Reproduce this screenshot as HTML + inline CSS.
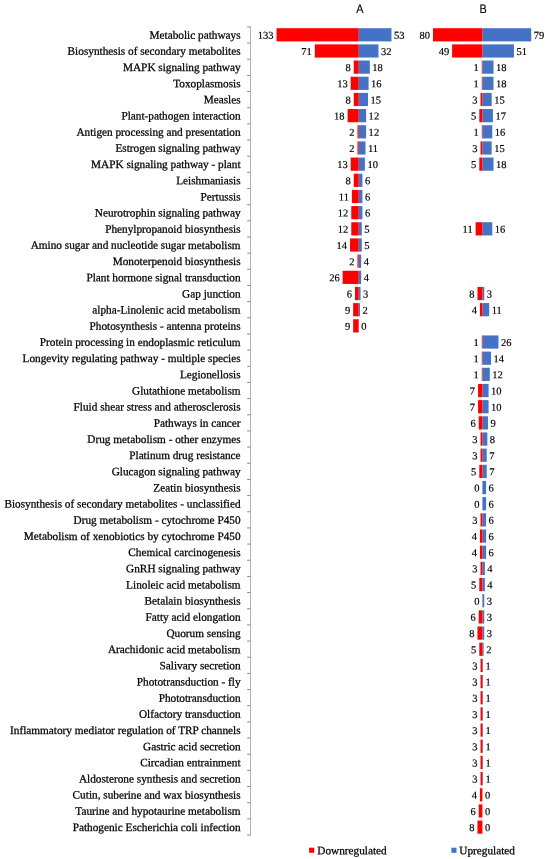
<!DOCTYPE html>
<html lang="en"><head><meta charset="utf-8"><title>KEGG pathway enrichment</title>
<style>
html,body{margin:0;padding:0;background:#fff}
body{width:550px;height:859px;overflow:hidden}
svg{display:block;filter:blur(.3px)}
text{text-rendering:geometricPrecision;font-family:"Liberation Serif","Times New Roman",serif;font-size:11.3px;fill:#000;stroke:#000;stroke-width:.25px}
.n{font-size:10.55px;stroke-width:.18px}
.n.l{text-anchor:end}
.l{text-anchor:end}
.h{font-family:"Liberation Sans",Arial,sans-serif;font-size:12.2px;text-anchor:middle;stroke-width:.1px}
.ax{stroke:#b3b3b3;stroke-width:1;fill:none}
.tk{stroke:#8a8a8a;stroke-width:1;fill:none}
</style></head><body>
<svg width="550" height="859" viewBox="0 0 550 859">
<rect width="550" height="859" fill="#fff"/>
<text class="h" transform="translate(359.75 12.65) scale(.89 1)">A</text>
<text class="h" transform="translate(483.1 12.65) scale(.89 1)">B</text>

<path class="ax" d="M250.5 26.4V835.5"/>
<path class="tk" d="M247.2 26.90H250.5M247.2 43.06H250.5M247.2 59.22H250.5M247.2 75.39H250.5M247.2 91.55H250.5M247.2 107.71H250.5M247.2 123.87H250.5M247.2 140.03H250.5M247.2 156.20H250.5M247.2 172.36H250.5M247.2 188.52H250.5M247.2 204.68H250.5M247.2 220.84H250.5M247.2 237.01H250.5M247.2 253.17H250.5M247.2 269.33H250.5M247.2 285.49H250.5M247.2 301.65H250.5M247.2 317.82H250.5M247.2 333.98H250.5M247.2 350.14H250.5M247.2 366.30H250.5M247.2 382.46H250.5M247.2 398.63H250.5M247.2 414.79H250.5M247.2 430.95H250.5M247.2 447.11H250.5M247.2 463.27H250.5M247.2 479.44H250.5M247.2 495.60H250.5M247.2 511.76H250.5M247.2 527.92H250.5M247.2 544.08H250.5M247.2 560.25H250.5M247.2 576.41H250.5M247.2 592.57H250.5M247.2 608.73H250.5M247.2 624.89H250.5M247.2 641.06H250.5M247.2 657.22H250.5M247.2 673.38H250.5M247.2 689.54H250.5M247.2 705.70H250.5M247.2 721.87H250.5M247.2 738.03H250.5M247.2 754.19H250.5M247.2 770.35H250.5M247.2 786.51H250.5M247.2 802.68H250.5M247.2 818.84H250.5M247.2 835.00H250.5"/>
<text class="l" transform="matrix(0.997 .0005 0 1 240.60 38.70)">Metabolic pathways</text>
<rect x="358.70" y="28.20" width="32.75" height="13.2" fill="#4472c4"/>
<rect x="276.51" y="28.20" width="82.19" height="13.2" fill="#ff0000"/>
<text class="n l" transform="matrix(0.997 .0005 0 1 273.56 38.75)">133</text>
<text class="n" transform="matrix(0.997 .0005 0 1 393.95 38.75)">53</text>
<rect x="482.40" y="28.20" width="48.82" height="13.2" fill="#4472c4"/>
<rect x="432.96" y="28.20" width="49.44" height="13.2" fill="#ff0000"/>
<text class="n l" transform="matrix(0.997 .0005 0 1 430.01 38.75)">80</text>
<text class="n" transform="matrix(0.997 .0005 0 1 533.72 38.75)">79</text>
<text class="l" transform="matrix(0.997 .0005 0 1 240.60 54.87)">Biosynthesis of secondary metabolites</text>
<rect x="358.70" y="44.37" width="19.78" height="13.2" fill="#4472c4"/>
<rect x="314.82" y="44.37" width="43.88" height="13.2" fill="#ff0000"/>
<text class="n l" transform="matrix(0.997 .0005 0 1 311.87 54.92)">71</text>
<text class="n" transform="matrix(0.997 .0005 0 1 380.98 54.92)">32</text>
<rect x="482.40" y="44.37" width="31.52" height="13.2" fill="#4472c4"/>
<rect x="452.12" y="44.37" width="30.28" height="13.2" fill="#ff0000"/>
<text class="n l" transform="matrix(0.997 .0005 0 1 449.17 54.92)">49</text>
<text class="n" transform="matrix(0.997 .0005 0 1 516.42 54.92)">51</text>
<text class="l" transform="matrix(0.997 .0005 0 1 240.60 71.04)">MAPK signaling pathway</text>
<rect x="358.70" y="60.54" width="11.12" height="13.2" fill="#4472c4"/>
<rect x="353.76" y="60.54" width="4.94" height="13.2" fill="#ff0000"/>
<text class="n l" transform="matrix(0.997 .0005 0 1 350.81 71.09)">8</text>
<text class="n" transform="matrix(0.997 .0005 0 1 372.32 71.09)">18</text>
<rect x="482.40" y="60.54" width="11.12" height="13.2" fill="#4472c4"/>
<rect x="481.78" y="60.54" width="0.62" height="13.2" fill="#ff0000"/>
<text class="n l" transform="matrix(0.997 .0005 0 1 478.83 71.09)">1</text>
<text class="n" transform="matrix(0.997 .0005 0 1 496.02 71.09)">18</text>
<text class="l" transform="matrix(0.997 .0005 0 1 240.60 87.21)">Toxoplasmosis</text>
<rect x="358.70" y="76.71" width="9.89" height="13.2" fill="#4472c4"/>
<rect x="350.67" y="76.71" width="8.03" height="13.2" fill="#ff0000"/>
<text class="n l" transform="matrix(0.997 .0005 0 1 347.72 87.26)">13</text>
<text class="n" transform="matrix(0.997 .0005 0 1 371.09 87.26)">16</text>
<rect x="482.40" y="76.71" width="11.12" height="13.2" fill="#4472c4"/>
<rect x="481.78" y="76.71" width="0.62" height="13.2" fill="#ff0000"/>
<text class="n l" transform="matrix(0.997 .0005 0 1 478.83 87.26)">1</text>
<text class="n" transform="matrix(0.997 .0005 0 1 496.02 87.26)">18</text>
<text class="l" transform="matrix(0.997 .0005 0 1 240.60 103.38)">Measles</text>
<rect x="358.70" y="92.88" width="9.27" height="13.2" fill="#4472c4"/>
<rect x="353.76" y="92.88" width="4.94" height="13.2" fill="#ff0000"/>
<text class="n l" transform="matrix(0.997 .0005 0 1 350.81 103.43)">8</text>
<text class="n" transform="matrix(0.997 .0005 0 1 370.47 103.43)">15</text>
<rect x="482.40" y="92.88" width="9.27" height="13.2" fill="#4472c4"/>
<rect x="480.55" y="92.88" width="1.85" height="13.2" fill="#ff0000"/>
<text class="n l" transform="matrix(0.997 .0005 0 1 477.60 103.43)">3</text>
<text class="n" transform="matrix(0.997 .0005 0 1 494.17 103.43)">15</text>
<text class="l" transform="matrix(0.997 .0005 0 1 240.60 119.55)">Plant-pathogen interaction</text>
<rect x="358.70" y="109.05" width="7.42" height="13.2" fill="#4472c4"/>
<rect x="347.58" y="109.05" width="11.12" height="13.2" fill="#ff0000"/>
<text class="n l" transform="matrix(0.997 .0005 0 1 344.63 119.60)">18</text>
<text class="n" transform="matrix(0.997 .0005 0 1 368.62 119.60)">12</text>
<rect x="482.40" y="109.05" width="10.51" height="13.2" fill="#4472c4"/>
<rect x="479.31" y="109.05" width="3.09" height="13.2" fill="#ff0000"/>
<text class="n l" transform="matrix(0.997 .0005 0 1 476.36 119.60)">5</text>
<text class="n" transform="matrix(0.997 .0005 0 1 495.41 119.60)">17</text>
<text class="l" transform="matrix(0.997 .0005 0 1 240.60 135.72)">Antigen processing and presentation</text>
<rect x="358.70" y="125.22" width="7.42" height="13.2" fill="#4472c4"/>
<rect x="357.46" y="125.22" width="1.24" height="13.2" fill="#ff0000"/>
<text class="n l" transform="matrix(0.997 .0005 0 1 354.51 135.77)">2</text>
<text class="n" transform="matrix(0.997 .0005 0 1 368.62 135.77)">12</text>
<rect x="482.40" y="125.22" width="9.89" height="13.2" fill="#4472c4"/>
<rect x="481.78" y="125.22" width="0.62" height="13.2" fill="#ff0000"/>
<text class="n l" transform="matrix(0.997 .0005 0 1 478.83 135.77)">1</text>
<text class="n" transform="matrix(0.997 .0005 0 1 494.79 135.77)">16</text>
<text class="l" transform="matrix(0.997 .0005 0 1 240.60 151.89)">Estrogen signaling pathway</text>
<rect x="358.70" y="141.39" width="6.80" height="13.2" fill="#4472c4"/>
<rect x="357.46" y="141.39" width="1.24" height="13.2" fill="#ff0000"/>
<text class="n l" transform="matrix(0.997 .0005 0 1 354.51 151.94)">2</text>
<text class="n" transform="matrix(0.997 .0005 0 1 368.00 151.94)">11</text>
<rect x="482.40" y="141.39" width="9.27" height="13.2" fill="#4472c4"/>
<rect x="480.55" y="141.39" width="1.85" height="13.2" fill="#ff0000"/>
<text class="n l" transform="matrix(0.997 .0005 0 1 477.60 151.94)">3</text>
<text class="n" transform="matrix(0.997 .0005 0 1 494.17 151.94)">15</text>
<text class="l" transform="matrix(0.997 .0005 0 1 240.60 168.06)">MAPK signaling pathway - plant</text>
<rect x="358.70" y="157.56" width="6.18" height="13.2" fill="#4472c4"/>
<rect x="350.67" y="157.56" width="8.03" height="13.2" fill="#ff0000"/>
<text class="n l" transform="matrix(0.997 .0005 0 1 347.72 168.11)">13</text>
<text class="n" transform="matrix(0.997 .0005 0 1 367.38 168.11)">10</text>
<rect x="482.40" y="157.56" width="11.12" height="13.2" fill="#4472c4"/>
<rect x="479.31" y="157.56" width="3.09" height="13.2" fill="#ff0000"/>
<text class="n l" transform="matrix(0.997 .0005 0 1 476.36 168.11)">5</text>
<text class="n" transform="matrix(0.997 .0005 0 1 496.02 168.11)">18</text>
<text class="l" transform="matrix(0.997 .0005 0 1 240.60 184.23)">Leishmaniasis</text>
<rect x="358.70" y="173.73" width="3.71" height="13.2" fill="#4472c4"/>
<rect x="353.76" y="173.73" width="4.94" height="13.2" fill="#ff0000"/>
<text class="n l" transform="matrix(0.997 .0005 0 1 350.81 184.28)">8</text>
<text class="n" transform="matrix(0.997 .0005 0 1 364.91 184.28)">6</text>
<text class="l" transform="matrix(0.997 .0005 0 1 240.60 200.40)">Pertussis</text>
<rect x="358.70" y="189.90" width="3.71" height="13.2" fill="#4472c4"/>
<rect x="351.90" y="189.90" width="6.80" height="13.2" fill="#ff0000"/>
<text class="n l" transform="matrix(0.997 .0005 0 1 348.95 200.45)">11</text>
<text class="n" transform="matrix(0.997 .0005 0 1 364.91 200.45)">6</text>
<text class="l" transform="matrix(0.997 .0005 0 1 240.60 216.57)">Neurotrophin signaling pathway</text>
<rect x="358.70" y="206.07" width="3.71" height="13.2" fill="#4472c4"/>
<rect x="351.28" y="206.07" width="7.42" height="13.2" fill="#ff0000"/>
<text class="n l" transform="matrix(0.997 .0005 0 1 348.33 216.62)">12</text>
<text class="n" transform="matrix(0.997 .0005 0 1 364.91 216.62)">6</text>
<text class="l" transform="matrix(0.997 .0005 0 1 240.60 232.74)">Phenylpropanoid biosynthesis</text>
<rect x="358.70" y="222.24" width="3.09" height="13.2" fill="#4472c4"/>
<rect x="351.28" y="222.24" width="7.42" height="13.2" fill="#ff0000"/>
<text class="n l" transform="matrix(0.997 .0005 0 1 348.33 232.79)">12</text>
<text class="n" transform="matrix(0.997 .0005 0 1 364.29 232.79)">5</text>
<rect x="482.40" y="222.24" width="9.89" height="13.2" fill="#4472c4"/>
<rect x="475.60" y="222.24" width="6.80" height="13.2" fill="#ff0000"/>
<text class="n l" transform="matrix(0.997 .0005 0 1 472.65 232.79)">11</text>
<text class="n" transform="matrix(0.997 .0005 0 1 494.79 232.79)">16</text>
<text class="l" transform="matrix(0.997 .0005 0 1 240.60 248.91)">Amino sugar and nucleotide sugar metabolism</text>
<rect x="358.70" y="238.41" width="3.09" height="13.2" fill="#4472c4"/>
<rect x="350.05" y="238.41" width="8.65" height="13.2" fill="#ff0000"/>
<text class="n l" transform="matrix(0.997 .0005 0 1 347.10 248.96)">14</text>
<text class="n" transform="matrix(0.997 .0005 0 1 364.29 248.96)">5</text>
<text class="l" transform="matrix(0.997 .0005 0 1 240.60 265.08)">Monoterpenoid biosynthesis</text>
<rect x="358.70" y="254.58" width="2.47" height="13.2" fill="#4472c4"/>
<rect x="357.46" y="254.58" width="1.24" height="13.2" fill="#ff0000"/>
<text class="n l" transform="matrix(0.997 .0005 0 1 354.51 265.13)">2</text>
<text class="n" transform="matrix(0.997 .0005 0 1 363.67 265.13)">4</text>
<text class="l" transform="matrix(0.997 .0005 0 1 240.60 281.25)">Plant hormone signal transduction</text>
<rect x="358.70" y="270.75" width="2.47" height="13.2" fill="#4472c4"/>
<rect x="342.63" y="270.75" width="16.07" height="13.2" fill="#ff0000"/>
<text class="n l" transform="matrix(0.997 .0005 0 1 339.68 281.30)">26</text>
<text class="n" transform="matrix(0.997 .0005 0 1 363.67 281.30)">4</text>
<text class="l" transform="matrix(0.997 .0005 0 1 240.60 297.42)">Gap junction</text>
<rect x="358.70" y="286.92" width="1.85" height="13.2" fill="#4472c4"/>
<rect x="354.99" y="286.92" width="3.71" height="13.2" fill="#ff0000"/>
<text class="n l" transform="matrix(0.997 .0005 0 1 352.04 297.47)">6</text>
<text class="n" transform="matrix(0.997 .0005 0 1 363.05 297.47)">3</text>
<rect x="482.40" y="286.92" width="1.85" height="13.2" fill="#4472c4"/>
<rect x="477.46" y="286.92" width="4.94" height="13.2" fill="#ff0000"/>
<text class="n l" transform="matrix(0.997 .0005 0 1 474.51 297.47)">8</text>
<text class="n" transform="matrix(0.997 .0005 0 1 486.75 297.47)">3</text>
<text class="l" transform="matrix(0.997 .0005 0 1 240.60 313.59)">alpha-Linolenic acid metabolism</text>
<rect x="358.70" y="303.09" width="1.24" height="13.2" fill="#4472c4"/>
<rect x="353.14" y="303.09" width="5.56" height="13.2" fill="#ff0000"/>
<text class="n l" transform="matrix(0.997 .0005 0 1 350.19 313.64)">9</text>
<text class="n" transform="matrix(0.997 .0005 0 1 362.44 313.64)">2</text>
<rect x="482.40" y="303.09" width="6.80" height="13.2" fill="#4472c4"/>
<rect x="479.93" y="303.09" width="2.47" height="13.2" fill="#ff0000"/>
<text class="n l" transform="matrix(0.997 .0005 0 1 476.98 313.64)">4</text>
<text class="n" transform="matrix(0.997 .0005 0 1 491.70 313.64)">11</text>
<text class="l" transform="matrix(0.997 .0005 0 1 240.60 329.76)">Photosynthesis - antenna proteins</text>
<rect x="353.14" y="319.26" width="5.56" height="13.2" fill="#ff0000"/>
<text class="n l" transform="matrix(0.997 .0005 0 1 350.19 329.81)">9</text>
<text class="n" transform="matrix(0.997 .0005 0 1 361.20 329.81)">0</text>
<text class="l" transform="matrix(0.997 .0005 0 1 240.60 345.93)">Protein processing in endoplasmic reticulum</text>
<rect x="482.40" y="335.43" width="16.07" height="13.2" fill="#4472c4"/>
<rect x="481.78" y="335.43" width="0.62" height="13.2" fill="#ff0000"/>
<text class="n l" transform="matrix(0.997 .0005 0 1 478.83 345.98)">1</text>
<text class="n" transform="matrix(0.997 .0005 0 1 500.97 345.98)">26</text>
<text class="l" transform="matrix(0.997 .0005 0 1 240.60 362.10)">Longevity regulating pathway - multiple species</text>
<rect x="482.40" y="351.60" width="8.65" height="13.2" fill="#4472c4"/>
<rect x="481.78" y="351.60" width="0.62" height="13.2" fill="#ff0000"/>
<text class="n l" transform="matrix(0.997 .0005 0 1 478.83 362.15)">1</text>
<text class="n" transform="matrix(0.997 .0005 0 1 493.55 362.15)">14</text>
<text class="l" transform="matrix(0.997 .0005 0 1 240.60 378.27)">Legionellosis</text>
<rect x="482.40" y="367.77" width="7.42" height="13.2" fill="#4472c4"/>
<rect x="481.78" y="367.77" width="0.62" height="13.2" fill="#ff0000"/>
<text class="n l" transform="matrix(0.997 .0005 0 1 478.83 378.32)">1</text>
<text class="n" transform="matrix(0.997 .0005 0 1 492.32 378.32)">12</text>
<text class="l" transform="matrix(0.997 .0005 0 1 240.60 394.44)">Glutathione metabolism</text>
<rect x="482.40" y="383.94" width="6.18" height="13.2" fill="#4472c4"/>
<rect x="478.07" y="383.94" width="4.33" height="13.2" fill="#ff0000"/>
<text class="n l" transform="matrix(0.997 .0005 0 1 475.12 394.49)">7</text>
<text class="n" transform="matrix(0.997 .0005 0 1 491.08 394.49)">10</text>
<text class="l" transform="matrix(0.997 .0005 0 1 240.60 410.61)">Fluid shear stress and atherosclerosis</text>
<rect x="482.40" y="400.11" width="6.18" height="13.2" fill="#4472c4"/>
<rect x="478.07" y="400.11" width="4.33" height="13.2" fill="#ff0000"/>
<text class="n l" transform="matrix(0.997 .0005 0 1 475.12 410.66)">7</text>
<text class="n" transform="matrix(0.997 .0005 0 1 491.08 410.66)">10</text>
<text class="l" transform="matrix(0.997 .0005 0 1 240.60 426.78)">Pathways in cancer</text>
<rect x="482.40" y="416.28" width="5.56" height="13.2" fill="#4472c4"/>
<rect x="478.69" y="416.28" width="3.71" height="13.2" fill="#ff0000"/>
<text class="n l" transform="matrix(0.997 .0005 0 1 475.74 426.83)">6</text>
<text class="n" transform="matrix(0.997 .0005 0 1 490.46 426.83)">9</text>
<text class="l" transform="matrix(0.997 .0005 0 1 240.60 442.95)">Drug metabolism - other enzymes</text>
<rect x="482.40" y="432.45" width="4.94" height="13.2" fill="#4472c4"/>
<rect x="480.55" y="432.45" width="1.85" height="13.2" fill="#ff0000"/>
<text class="n l" transform="matrix(0.997 .0005 0 1 477.60 443.00)">3</text>
<text class="n" transform="matrix(0.997 .0005 0 1 489.84 443.00)">8</text>
<text class="l" transform="matrix(0.997 .0005 0 1 240.60 459.12)">Platinum drug resistance</text>
<rect x="482.40" y="448.62" width="4.33" height="13.2" fill="#4472c4"/>
<rect x="480.55" y="448.62" width="1.85" height="13.2" fill="#ff0000"/>
<text class="n l" transform="matrix(0.997 .0005 0 1 477.60 459.17)">3</text>
<text class="n" transform="matrix(0.997 .0005 0 1 489.23 459.17)">7</text>
<text class="l" transform="matrix(0.997 .0005 0 1 240.60 475.29)">Glucagon signaling pathway</text>
<rect x="482.40" y="464.79" width="4.33" height="13.2" fill="#4472c4"/>
<rect x="479.31" y="464.79" width="3.09" height="13.2" fill="#ff0000"/>
<text class="n l" transform="matrix(0.997 .0005 0 1 476.36 475.34)">5</text>
<text class="n" transform="matrix(0.997 .0005 0 1 489.23 475.34)">7</text>
<text class="l" transform="matrix(0.997 .0005 0 1 240.60 491.46)">Zeatin biosynthesis</text>
<rect x="482.40" y="480.96" width="3.71" height="13.2" fill="#4472c4"/>
<text class="n l" transform="matrix(0.997 .0005 0 1 479.45 491.51)">0</text>
<text class="n" transform="matrix(0.997 .0005 0 1 488.61 491.51)">6</text>
<text class="l" transform="matrix(0.997 .0005 0 1 240.60 507.63)">Biosynthesis of secondary metabolites - unclassified</text>
<rect x="482.40" y="497.13" width="3.71" height="13.2" fill="#4472c4"/>
<text class="n l" transform="matrix(0.997 .0005 0 1 479.45 507.68)">0</text>
<text class="n" transform="matrix(0.997 .0005 0 1 488.61 507.68)">6</text>
<text class="l" transform="matrix(0.997 .0005 0 1 240.60 523.80)">Drug metabolism - cytochrome P450</text>
<rect x="482.40" y="513.30" width="3.71" height="13.2" fill="#4472c4"/>
<rect x="480.55" y="513.30" width="1.85" height="13.2" fill="#ff0000"/>
<text class="n l" transform="matrix(0.997 .0005 0 1 477.60 523.85)">3</text>
<text class="n" transform="matrix(0.997 .0005 0 1 488.61 523.85)">6</text>
<text class="l" transform="matrix(0.997 .0005 0 1 240.60 539.97)">Metabolism of xenobiotics by cytochrome P450</text>
<rect x="482.40" y="529.47" width="3.71" height="13.2" fill="#4472c4"/>
<rect x="479.93" y="529.47" width="2.47" height="13.2" fill="#ff0000"/>
<text class="n l" transform="matrix(0.997 .0005 0 1 476.98 540.02)">4</text>
<text class="n" transform="matrix(0.997 .0005 0 1 488.61 540.02)">6</text>
<text class="l" transform="matrix(0.997 .0005 0 1 240.60 556.14)">Chemical carcinogenesis</text>
<rect x="482.40" y="545.64" width="3.71" height="13.2" fill="#4472c4"/>
<rect x="479.93" y="545.64" width="2.47" height="13.2" fill="#ff0000"/>
<text class="n l" transform="matrix(0.997 .0005 0 1 476.98 556.19)">4</text>
<text class="n" transform="matrix(0.997 .0005 0 1 488.61 556.19)">6</text>
<text class="l" transform="matrix(0.997 .0005 0 1 240.60 572.31)">GnRH signaling pathway</text>
<rect x="482.40" y="561.81" width="2.47" height="13.2" fill="#4472c4"/>
<rect x="480.55" y="561.81" width="1.85" height="13.2" fill="#ff0000"/>
<text class="n l" transform="matrix(0.997 .0005 0 1 477.60 572.36)">3</text>
<text class="n" transform="matrix(0.997 .0005 0 1 487.37 572.36)">4</text>
<text class="l" transform="matrix(0.997 .0005 0 1 240.60 588.48)">Linoleic acid metabolism</text>
<rect x="482.40" y="577.98" width="2.47" height="13.2" fill="#4472c4"/>
<rect x="479.31" y="577.98" width="3.09" height="13.2" fill="#ff0000"/>
<text class="n l" transform="matrix(0.997 .0005 0 1 476.36 588.53)">5</text>
<text class="n" transform="matrix(0.997 .0005 0 1 487.37 588.53)">4</text>
<text class="l" transform="matrix(0.997 .0005 0 1 240.60 604.65)">Betalain biosynthesis</text>
<rect x="482.40" y="594.15" width="1.85" height="13.2" fill="#4472c4"/>
<text class="n l" transform="matrix(0.997 .0005 0 1 479.45 604.70)">0</text>
<text class="n" transform="matrix(0.997 .0005 0 1 486.75 604.70)">3</text>
<text class="l" transform="matrix(0.997 .0005 0 1 240.60 620.82)">Fatty acid elongation</text>
<rect x="482.40" y="610.32" width="1.85" height="13.2" fill="#4472c4"/>
<rect x="478.69" y="610.32" width="3.71" height="13.2" fill="#ff0000"/>
<text class="n l" transform="matrix(0.997 .0005 0 1 475.74 620.87)">6</text>
<text class="n" transform="matrix(0.997 .0005 0 1 486.75 620.87)">3</text>
<text class="l" transform="matrix(0.997 .0005 0 1 240.60 636.99)">Quorum sensing</text>
<rect x="482.40" y="626.49" width="1.85" height="13.2" fill="#4472c4"/>
<rect x="477.46" y="626.49" width="4.94" height="13.2" fill="#ff0000"/>
<text class="n l" transform="matrix(0.997 .0005 0 1 474.51 637.04)">8</text>
<text class="n" transform="matrix(0.997 .0005 0 1 486.75 637.04)">3</text>
<text class="l" transform="matrix(0.997 .0005 0 1 240.60 653.16)">Arachidonic acid metabolism</text>
<rect x="482.40" y="642.66" width="1.24" height="13.2" fill="#4472c4"/>
<rect x="479.31" y="642.66" width="3.09" height="13.2" fill="#ff0000"/>
<text class="n l" transform="matrix(0.997 .0005 0 1 476.36 653.21)">5</text>
<text class="n" transform="matrix(0.997 .0005 0 1 486.14 653.21)">2</text>
<text class="l" transform="matrix(0.997 .0005 0 1 240.60 669.33)">Salivary secretion</text>
<rect x="482.40" y="658.83" width="0.62" height="13.2" fill="#4472c4"/>
<rect x="480.55" y="658.83" width="1.85" height="13.2" fill="#ff0000"/>
<text class="n l" transform="matrix(0.997 .0005 0 1 477.60 669.38)">3</text>
<text class="n" transform="matrix(0.997 .0005 0 1 485.52 669.38)">1</text>
<text class="l" transform="matrix(0.997 .0005 0 1 240.60 685.50)">Phototransduction - fly</text>
<rect x="482.40" y="675.00" width="0.62" height="13.2" fill="#4472c4"/>
<rect x="480.55" y="675.00" width="1.85" height="13.2" fill="#ff0000"/>
<text class="n l" transform="matrix(0.997 .0005 0 1 477.60 685.55)">3</text>
<text class="n" transform="matrix(0.997 .0005 0 1 485.52 685.55)">1</text>
<text class="l" transform="matrix(0.997 .0005 0 1 240.60 701.67)">Phototransduction</text>
<rect x="482.40" y="691.17" width="0.62" height="13.2" fill="#4472c4"/>
<rect x="480.55" y="691.17" width="1.85" height="13.2" fill="#ff0000"/>
<text class="n l" transform="matrix(0.997 .0005 0 1 477.60 701.72)">3</text>
<text class="n" transform="matrix(0.997 .0005 0 1 485.52 701.72)">1</text>
<text class="l" transform="matrix(0.997 .0005 0 1 240.60 717.84)">Olfactory transduction</text>
<rect x="482.40" y="707.34" width="0.62" height="13.2" fill="#4472c4"/>
<rect x="480.55" y="707.34" width="1.85" height="13.2" fill="#ff0000"/>
<text class="n l" transform="matrix(0.997 .0005 0 1 477.60 717.89)">3</text>
<text class="n" transform="matrix(0.997 .0005 0 1 485.52 717.89)">1</text>
<text class="l" transform="matrix(0.997 .0005 0 1 240.60 734.01)">Inflammatory mediator regulation of TRP channels</text>
<rect x="482.40" y="723.51" width="0.62" height="13.2" fill="#4472c4"/>
<rect x="480.55" y="723.51" width="1.85" height="13.2" fill="#ff0000"/>
<text class="n l" transform="matrix(0.997 .0005 0 1 477.60 734.06)">3</text>
<text class="n" transform="matrix(0.997 .0005 0 1 485.52 734.06)">1</text>
<text class="l" transform="matrix(0.997 .0005 0 1 240.60 750.18)">Gastric acid secretion</text>
<rect x="482.40" y="739.68" width="0.62" height="13.2" fill="#4472c4"/>
<rect x="480.55" y="739.68" width="1.85" height="13.2" fill="#ff0000"/>
<text class="n l" transform="matrix(0.997 .0005 0 1 477.60 750.23)">3</text>
<text class="n" transform="matrix(0.997 .0005 0 1 485.52 750.23)">1</text>
<text class="l" transform="matrix(0.997 .0005 0 1 240.60 766.35)">Circadian entrainment</text>
<rect x="482.40" y="755.85" width="0.62" height="13.2" fill="#4472c4"/>
<rect x="480.55" y="755.85" width="1.85" height="13.2" fill="#ff0000"/>
<text class="n l" transform="matrix(0.997 .0005 0 1 477.60 766.40)">3</text>
<text class="n" transform="matrix(0.997 .0005 0 1 485.52 766.40)">1</text>
<text class="l" transform="matrix(0.997 .0005 0 1 240.60 782.52)">Aldosterone synthesis and secretion</text>
<rect x="482.40" y="772.02" width="0.62" height="13.2" fill="#4472c4"/>
<rect x="480.55" y="772.02" width="1.85" height="13.2" fill="#ff0000"/>
<text class="n l" transform="matrix(0.997 .0005 0 1 477.60 782.57)">3</text>
<text class="n" transform="matrix(0.997 .0005 0 1 485.52 782.57)">1</text>
<text class="l" transform="matrix(0.997 .0005 0 1 240.60 798.69)">Cutin, suberine and wax biosynthesis</text>
<rect x="479.93" y="788.19" width="2.47" height="13.2" fill="#ff0000"/>
<text class="n l" transform="matrix(0.997 .0005 0 1 476.98 798.74)">4</text>
<text class="n" transform="matrix(0.997 .0005 0 1 484.90 798.74)">0</text>
<text class="l" transform="matrix(0.997 .0005 0 1 240.60 814.86)">Taurine and hypotaurine metabolism</text>
<rect x="478.69" y="804.36" width="3.71" height="13.2" fill="#ff0000"/>
<text class="n l" transform="matrix(0.997 .0005 0 1 475.74 814.91)">6</text>
<text class="n" transform="matrix(0.997 .0005 0 1 484.90 814.91)">0</text>
<text class="l" transform="matrix(0.997 .0005 0 1 240.60 831.03)">Pathogenic Escherichia coli infection</text>
<rect x="477.46" y="820.53" width="4.94" height="13.2" fill="#ff0000"/>
<text class="n l" transform="matrix(0.997 .0005 0 1 474.51 831.08)">8</text>
<text class="n" transform="matrix(0.997 .0005 0 1 484.90 831.08)">0</text>
<rect x="309.1" y="847.7" width="5.1" height="5.1" fill="#ff0000"/>
<text transform="matrix(0.997 .0005 0 1 317.30 854.30)">Downregulated</text>
<rect x="451.4" y="847.7" width="5.1" height="5.1" fill="#4472c4"/>
<text transform="matrix(0.997 .0005 0 1 459.30 854.30)">Upregulated</text>
</svg></body></html>
